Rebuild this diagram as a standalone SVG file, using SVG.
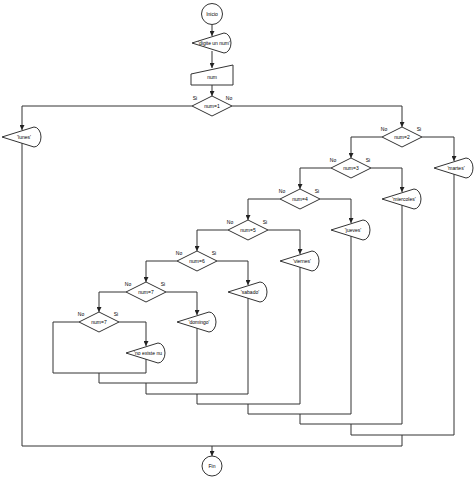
<svg xmlns="http://www.w3.org/2000/svg" width="474" height="483" viewBox="0 0 474 483">
<defs>
<marker id="ah" markerUnits="userSpaceOnUse" markerWidth="5" markerHeight="5" refX="5" refY="2.5" orient="auto"><path d="M0,0 L5,2.5 L0,5 z" fill="#222"/></marker>
<style>
.s{fill:#fff;stroke:#333;stroke-width:1}
.c{fill:none;stroke:#333;stroke-width:1}
.t{font-family:"Liberation Sans",Arial,sans-serif;font-size:5px;fill:#000;text-anchor:middle}
.l{font-family:"Liberation Sans",Arial,sans-serif;font-size:5px;fill:#000;text-anchor:middle}
</style>
</defs>
<rect width="474" height="483" fill="#fff"/>
<g id="connectors">
<path class="c" d="M212,25 V36" marker-end="url(#ah)"/>
<path class="c" d="M212,51 V68" marker-end="url(#ah)"/>
<path class="c" d="M212,85 V96" marker-end="url(#ah)"/>
<path class="c" d="M192,106 H22 V130" marker-end="url(#ah)"/>
<path class="c" d="M232,106 H402 V127" marker-end="url(#ah)"/>
<path class="c" d="M382,137 H351 V158" marker-end="url(#ah)"/>
<path class="c" d="M422,137 H454 V161" marker-end="url(#ah)"/>
<path class="c" d="M331,168 H300 V189" marker-end="url(#ah)"/>
<path class="c" d="M371,168 H402 V192" marker-end="url(#ah)"/>
<path class="c" d="M280,199 H248 V220" marker-end="url(#ah)"/>
<path class="c" d="M320,199 H351 V223" marker-end="url(#ah)"/>
<path class="c" d="M228,230 H197 V251" marker-end="url(#ah)"/>
<path class="c" d="M268,230 H300 V254" marker-end="url(#ah)"/>
<path class="c" d="M177,261 H146 V282" marker-end="url(#ah)"/>
<path class="c" d="M217,261 H248 V285" marker-end="url(#ah)"/>
<path class="c" d="M126,292 H99 V312" marker-end="url(#ah)"/>
<path class="c" d="M166,292 H197 V315" marker-end="url(#ah)"/>
<path class="c" d="M79,322 H53 V373 H146"/>
<path class="c" d="M119,322 H146 V346" marker-end="url(#ah)"/>
<path class="c" d="M22,143 V446 H402"/>
<path class="c" d="M454,174 V435 H351"/>
<path class="c" d="M402,205 V424 H300"/>
<path class="c" d="M351,236 V414 H248"/>
<path class="c" d="M300,267 V404 H197"/>
<path class="c" d="M248,298 V394 H146"/>
<path class="c" d="M197,328 V383 H99"/>
<path class="c" d="M146,359 V373"/>
<path class="c" d="M99,373 V383"/>
<path class="c" d="M146,383 V394"/>
<path class="c" d="M197,394 V404"/>
<path class="c" d="M248,404 V414"/>
<path class="c" d="M300,414 V424"/>
<path class="c" d="M351,424 V435"/>
<path class="c" d="M402,435 V446"/>
<path class="c" d="M212,446 V456" marker-end="url(#ah)"/>
</g>
<g id="inicio"><circle class="s" cx="212" cy="14" r="10.5"/><text class="t" x="212" y="16">Inicio</text></g>
<g id="out-digite"><path class="s" d="M192,43 L224,33 A7,10 0 0 1 224,53 Z"/><text class="t" x="214" y="45">'digite un num'</text></g>
<g id="in-num"><path class="s" d="M191,74 L233,65 V85 H191 Z"/><text class="t" x="212" y="79">num</text></g>
<g id="d1"><path class="s" d="M192,106 L212,96 L232,106 L212,116 Z"/><text class="t" x="212" y="108">num=1</text><text class="l" x="195" y="100">Si</text><text class="l" x="229" y="100">No</text></g>
<g id="o-lunes"><path class="s" d="M2,137 L34,127 A7,10 0 0 1 34,147 Z"/><text class="t" x="24" y="139">'lunes'</text></g>
<g id="d2"><path class="s" d="M382,137 L402,127 L422,137 L402,147 Z"/><text class="t" x="402" y="139">num=2</text><text class="l" x="384" y="131">No</text><text class="l" x="419" y="131">Si</text></g>
<g id="o-martes"><path class="s" d="M434,168 L466,158 A7,10 0 0 1 466,178 Z"/><text class="t" x="456" y="170">'martes'</text></g>
<g id="d3"><path class="s" d="M331,168 L351,158 L371,168 L351,178 Z"/><text class="t" x="351" y="170">num=3</text><text class="l" x="333" y="162">No</text><text class="l" x="368" y="162">Si</text></g>
<g id="o-miercoles"><path class="s" d="M382,199 L414,189 A7,10 0 0 1 414,209 Z"/><text class="t" x="404" y="201">'miercoles'</text></g>
<g id="d4"><path class="s" d="M280,199 L300,189 L320,199 L300,209 Z"/><text class="t" x="300" y="201">num=4</text><text class="l" x="282" y="193">No</text><text class="l" x="317" y="193">Si</text></g>
<g id="o-jueves"><path class="s" d="M331,230 L363,220 A7,10 0 0 1 363,240 Z"/><text class="t" x="353" y="232">'jueves'</text></g>
<g id="d5"><path class="s" d="M228,230 L248,220 L268,230 L248,240 Z"/><text class="t" x="248" y="232">num=5</text><text class="l" x="230" y="224">No</text><text class="l" x="265" y="224">Si</text></g>
<g id="o-viernes"><path class="s" d="M280,261 L312,251 A7,10 0 0 1 312,271 Z"/><text class="t" x="302" y="263">'viernes'</text></g>
<g id="d6"><path class="s" d="M177,261 L197,251 L217,261 L197,271 Z"/><text class="t" x="197" y="263">num=6</text><text class="l" x="179" y="255">No</text><text class="l" x="214" y="255">Si</text></g>
<g id="o-sabado"><path class="s" d="M228,292 L260,282 A7,10 0 0 1 260,302 Z"/><text class="t" x="250" y="294">'sabado'</text></g>
<g id="d7"><path class="s" d="M126,292 L146,282 L166,292 L146,302 Z"/><text class="t" x="146" y="294">num=7</text><text class="l" x="128" y="286">No</text><text class="l" x="163" y="286">Si</text></g>
<g id="o-domingo"><path class="s" d="M177,322 L209,312 A7,10 0 0 1 209,332 Z"/><text class="t" x="199" y="324">'domingo'</text></g>
<g id="d8"><path class="s" d="M79,322 L99,312 L119,322 L99,332 Z"/><text class="t" x="99" y="324">num=7</text><text class="l" x="81" y="316">No</text><text class="l" x="116" y="316">Si</text></g>
<g id="o-noexiste"><path class="s" d="M126,353 L158,343 A7,10 0 0 1 158,363 Z"/><text class="t" x="148" y="355">'no existe nu</text></g>
<g id="fin"><circle class="s" cx="212" cy="466" r="10"/><text class="t" x="212" y="468">Fin</text></g>
</svg>
